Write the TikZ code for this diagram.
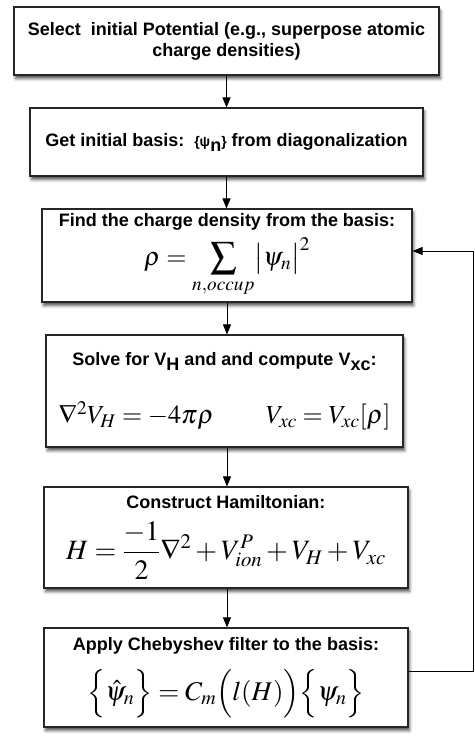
\documentclass[tikz,border=0pt]{standalone}
\usepackage{mathptmx}
\usepackage[no-math]{fontspec}
\setsansfont{Liberation Sans}
\usetikzlibrary{arrows.meta,shadows.blur}

\begin{document}
\begin{tikzpicture}[x=1pt,y=1pt,
    stage/.style={draw=black!85,line width=1.1pt,fill=white,inner sep=0pt,align=center,
      blur shadow={shadow xshift=1.5pt,shadow yshift=-3.5pt,shadow blur radius=3pt,shadow opacity=70},
      font=\sffamily\bfseries\fontsize{18}{21}\selectfont},
    flow/.style={-{Triangle[length=10pt,width=8pt]},line width=0.9pt}]
  \useasboundingbox (0,0) rectangle (474,-744);
  % the six stages, top to bottom
  \node[stage,minimum width=425,minimum height=68] (b1) at (226.5,-41)
    {Select\ \ initial Potential (e.g., superpose atomic\\charge densities)};
  \node[stage,minimum width=393,minimum height=68] (b2) at (226.5,-142)
    {Get initial basis:\ \ {\fontsize{14}{16}\selectfont\{ψ}\raisebox{-5pt}{n}{\fontsize{14}{16}\selectfont\}} from diagonalization};
  \node[stage,minimum width=370,minimum height=93] (b3) at (227,-255.5)
    {Find the charge density from the basis:\\[6pt]
     \fontsize{26}{30}\selectfont$\displaystyle\rho = \sum_{n,occup}\bigl|\psi_n\bigr|^2$};
  \node[stage,minimum width=357,minimum height=112] (b4) at (224.5,-391)
    {Solve for V\raisebox{-5pt}{H} and and compute V\raisebox{-5pt}{xc}:\\[30pt]
     \fontsize{26}{30}\selectfont$\nabla^2V_H = -4\pi\rho \qquad V_{xc} = V_{xc}[\rho]$};
  \node[stage,minimum width=364,minimum height=101] (b5) at (226,-537.5)
    {Construct Hamiltonian:\\[12pt]
     \fontsize{28}{32}\selectfont$\displaystyle H = \frac{-1}{2}\nabla^2 + V_{ion}^P + V_H + V_{xc}$};
  \node[stage,minimum width=364,minimum height=99] (b6) at (226,-677.5)
    {Apply Chebyshev filter to the basis:\\[14pt]
     \fontsize{27}{31}\selectfont$\Bigl\{\hat\psi_n\Bigr\} = C_m\Bigl(l(H)\Bigr)\Bigl\{\psi_n\Bigr\}$};
  % straight flow down
  \draw[flow] (b1.south) -- (b1.south |- b2.north);
  \draw[flow] (b2.south) -- (b2.south |- b3.north);
  \draw[flow] (b3.south) -- (b3.south |- b4.north);
  \draw[flow] (b4.south -| b3.south) -- (b3.south |- b5.north);
  \draw[flow] (b5.south -| b3.south) -- (b3.south |- b6.north);
  % loop back from the filter to the density
  \coordinate (ret) at (473,-671);
  \draw[flow] (b6.east |- ret) -- (ret) -- (ret |- 0,-251) -- (b3.east |- 0,-251);
\end{tikzpicture}
\end{document}
